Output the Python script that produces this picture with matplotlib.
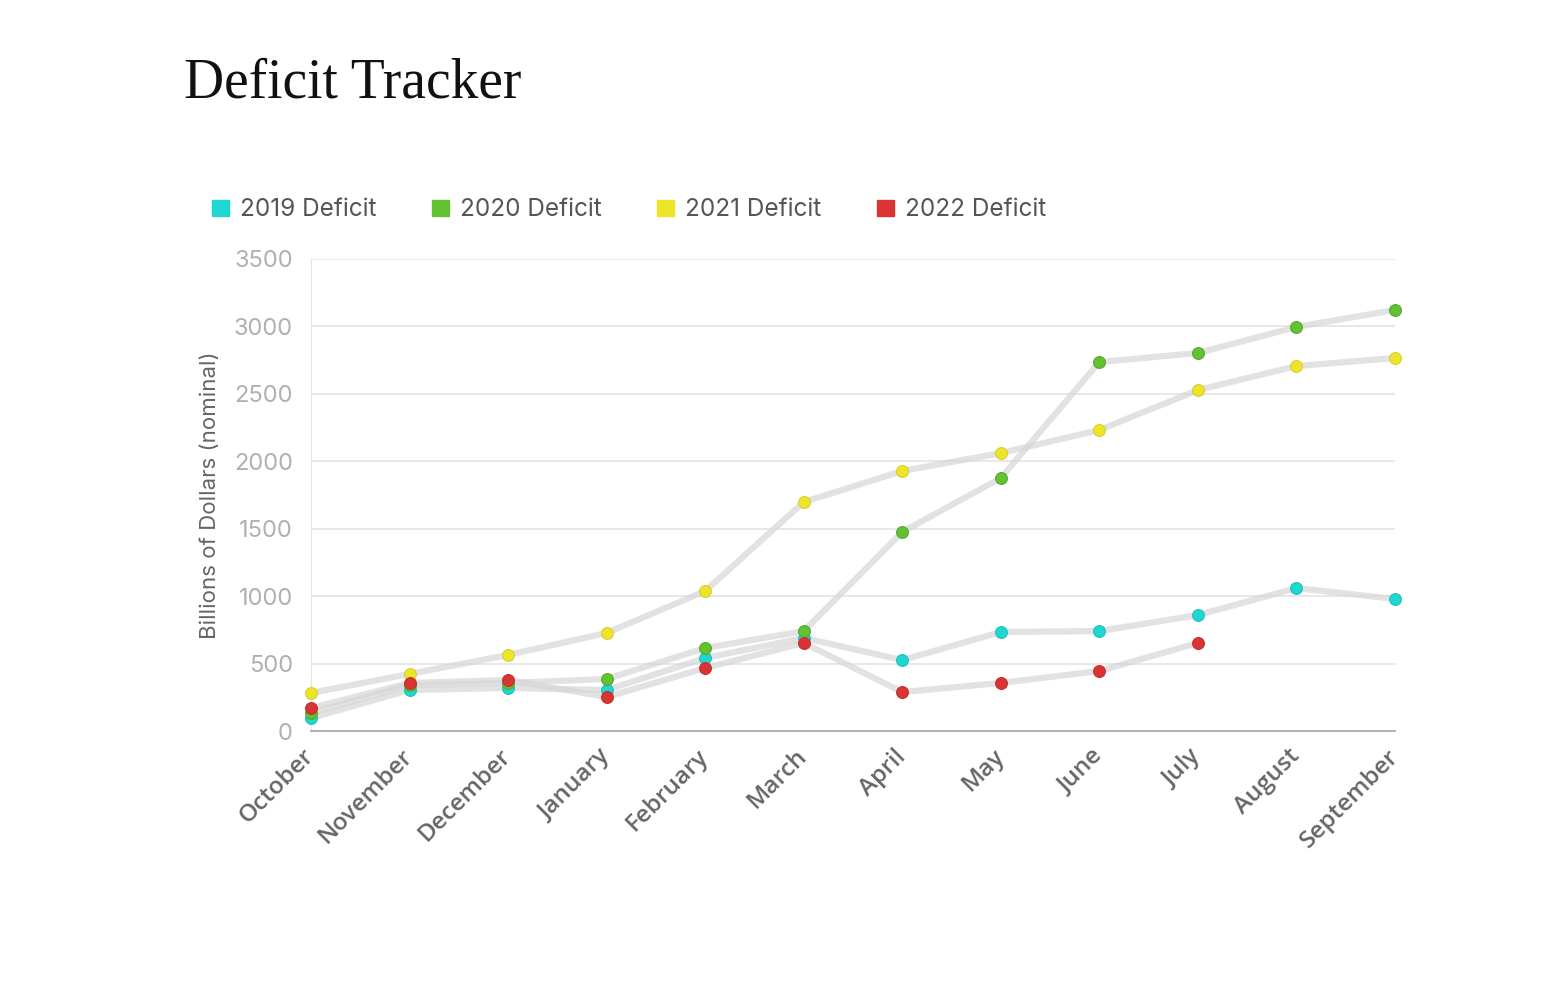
import matplotlib
matplotlib.use("Agg")
import matplotlib.pyplot as plt
from matplotlib.patches import Rectangle

months = ["October", "November", "December", "January", "February", "March",
          "April", "May", "June", "July", "August", "September"]
d2019 = [96, 304, 319, 304, 541, 690, 526, 734, 741, 860, 1060, 979]
d2020 = [133, 341, 356, 386, 615, 741, 1476, 1876, 2736, 2803, 2996, 3122]
d2021 = [282, 423, 564, 727, 1038, 1698, 1928, 2061, 2232, 2528, 2706, 2766]
d2022 = [170, 356, 378, 252, 467, 653, 289, 356, 445, 653]
names = ["2019 Deficit", "2020 Deficit", "2021 Deficit", "2022 Deficit"]
colors = ["#1fd6d0", "#62c232", "#ede52a", "#d93434"]
edges = ["#20c0ba", "#55a82c", "#d8cf2a", "#c22e2e"]

W, H = 1564, 985
fig = plt.figure(figsize=(W / 100, H / 100), dpi=100)
ax = fig.add_axes([311 / W, 1 - 731 / H, (1395 - 311) / W, (731 - 259) / H])

x = list(range(len(months)))
for vals, c, e in zip([d2019, d2020, d2021, d2022], colors, edges):
    xs = x[:len(vals)]
    ax.plot(xs, vals, color="#d6d6d6", lw=4.5, alpha=0.7, solid_capstyle="round",
            zorder=2, clip_on=False)
for vals, c, e in zip([d2019, d2020, d2021, d2022], colors, edges):
    xs = x[:len(vals)]
    ax.plot(xs, vals, "o", ms=8.5, mfc=c, mec=e, mew=0.8, ls="none",
            zorder=3, clip_on=False)

ax.set_xlim(0, 11)
ax.set_ylim(0, 3500)
ax.set_yticks(range(0, 3501, 500))
ax.grid(axis="y", color="#e4e4e4", lw=1.2)
ax.set_axisbelow(True)
for s in ["top", "right"]:
    ax.spines[s].set_visible(False)
ax.spines["left"].set_color("#e4e4e4")
ax.spines["bottom"].set_color("#aaaaaa")
ax.spines["bottom"].set_linewidth(1.3)
ax.tick_params(axis="y", length=0, pad=13, labelcolor="#b0b0b0", labelsize=17)
ax.tick_params(axis="x", length=0, pad=4)
for lab in ax.get_yticklabels():
    lab.set_family("Inter")
ax.set_xticks(x)
ax.set_xticklabels(months, rotation=45, ha="right", va="center", rotation_mode="anchor",
                   fontsize=17.5, color="#666666", family="Open Sans", fontweight="semibold")
for lab in ax.get_xticklabels():
    lab.set_y(-0.035)
ax.set_ylabel("Billions of Dollars (nominal)", fontsize=16, color="#666666",
              family="Inter", labelpad=10)

fig.text(184 / W, 1 - 84 / H, "Deficit Tracker", fontsize=40, family="Liberation Serif",
         color="#111111", va="center", ha="left")

leg_x = [212, 432, 657, 877]
for lx, name, c in zip(leg_x, names, colors):
    fig.patches.append(Rectangle((lx / W, 1 - 216 / H), 17 / W, 16 / H, color=c,
                                 transform=fig.transFigure))
    fig.text((lx + 28) / W, 1 - 210 / H, name, fontsize=17.5, color="#555555",
             family="Inter", va="center", ha="left")

fig.savefig("out.png", dpi=100, facecolor="white")
